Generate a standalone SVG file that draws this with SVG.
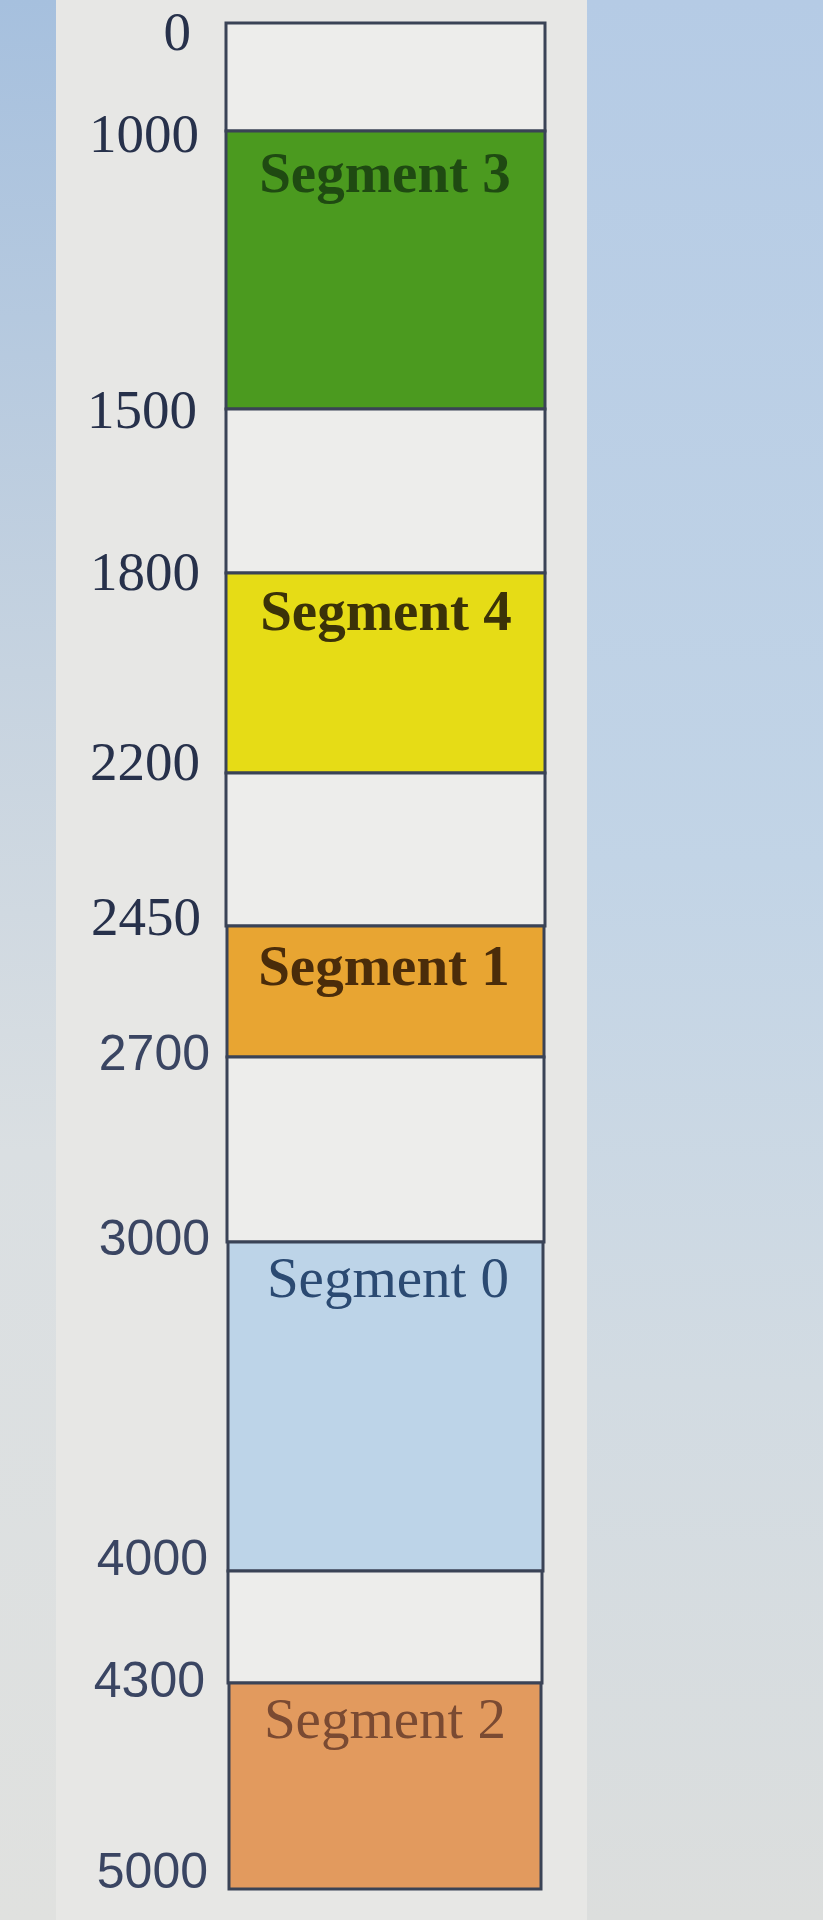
<svg xmlns="http://www.w3.org/2000/svg" width="823" height="1920" viewBox="0 0 823 1920">
  <defs>
    <linearGradient id="gRight" x1="0" y1="0" x2="0" y2="1">
      <stop offset="0" stop-color="#b5cbe5"/>
      <stop offset="0.45" stop-color="#c2d4e6"/>
      <stop offset="0.72" stop-color="#d2dbe2"/>
      <stop offset="1" stop-color="#dcdedd"/>
    </linearGradient>
    <linearGradient id="gLeft" x1="0" y1="0" x2="0" y2="1">
      <stop offset="0" stop-color="#a6c0de"/>
      <stop offset="0.35" stop-color="#c6d3e0"/>
      <stop offset="0.6" stop-color="#dadfe2"/>
      <stop offset="1" stop-color="#e0e1df"/>
    </linearGradient>
  </defs>
  <style>
    .seg { stroke: #3a4356; stroke-width: 3; }
    .ax { font-family: "Liberation Serif", "Times New Roman", serif; font-size: 55px; fill: #27314b; text-anchor: end; }
    .axs { font-family: "Liberation Sans", Arial, sans-serif; font-size: 50px; fill: #3a4562; text-anchor: end; }
    .lbl { font-family: "Liberation Serif", "Times New Roman", serif; font-size: 57px; text-anchor: middle; }
  </style>
  <!-- background -->
  <rect x="0" y="0" width="823" height="1920" fill="#e4e5e3"/>
  <rect x="0" y="0" width="56" height="1920" fill="url(#gLeft)"/>
  <rect x="587" y="0" width="236" height="1920" fill="url(#gRight)"/>
  <rect x="56" y="0" width="531" height="1920" fill="#e7e7e5"/>

  <g id="connectors"></g>

  <!-- segments -->
  <g id="free-0-1000"><rect class="seg" x="226" y="23" width="319" height="108" fill="#ededeb"/></g>
  <g id="segment-3">
    <rect class="seg" x="226" y="131" width="319" height="278" fill="#4b9a1f"/>
    <text class="lbl" x="385" y="192" fill="#1f4a12" font-weight="bold" font-size="56">Segment 3</text>
  </g>
  <g id="free-1500-1800"><rect class="seg" x="226" y="409" width="319" height="164" fill="#ededeb"/></g>
  <g id="segment-4">
    <rect class="seg" x="226" y="573" width="319" height="200" fill="#e6dc16"/>
    <text class="lbl" x="386" y="630" fill="#3b3208" font-weight="bold" font-size="56">Segment 4</text>
  </g>
  <g id="free-2200-2450"><rect class="seg" x="226" y="773" width="319" height="153" fill="#ededeb"/></g>
  <g id="segment-1">
    <rect class="seg" x="227" y="926" width="317" height="131" fill="#e8a532"/>
    <text class="lbl" x="384" y="985" fill="#4a2c0a" font-weight="bold" font-size="55">Segment 1</text>
  </g>
  <g id="free-2700-3000"><rect class="seg" x="227" y="1057" width="317" height="185" fill="#ededeb"/></g>
  <g id="segment-0">
    <rect class="seg" x="228" y="1242" width="315" height="329" fill="#bdd4e8"/>
    <text class="lbl" x="388" y="1297" fill="#2b4a72">Segment 0</text>
  </g>
  <g id="free-4000-4300"><rect class="seg" x="228" y="1571" width="314" height="112" fill="#ededeb"/></g>
  <g id="segment-2">
    <rect class="seg" x="229" y="1683" width="312" height="206" fill="#e29a5e"/>
    <text class="lbl" x="385" y="1738" fill="#7a4a32">Segment 2</text>
  </g>

  <!-- axis labels -->
  <g id="axis">
    <text class="ax" x="191" y="50">0</text>
    <text class="ax" x="199" y="152">1000</text>
    <text class="ax" x="197" y="428">1500</text>
    <text class="ax" x="200" y="590">1800</text>
    <text class="ax" x="200" y="780">2200</text>
    <text class="ax" x="201" y="935">2450</text>
    <text class="axs" x="210" y="1070">2700</text>
    <text class="axs" x="210" y="1255">3000</text>
    <text class="axs" x="208" y="1575">4000</text>
    <text class="axs" x="205" y="1697">4300</text>
    <text class="axs" x="208" y="1888">5000</text>
  </g>
</svg>
